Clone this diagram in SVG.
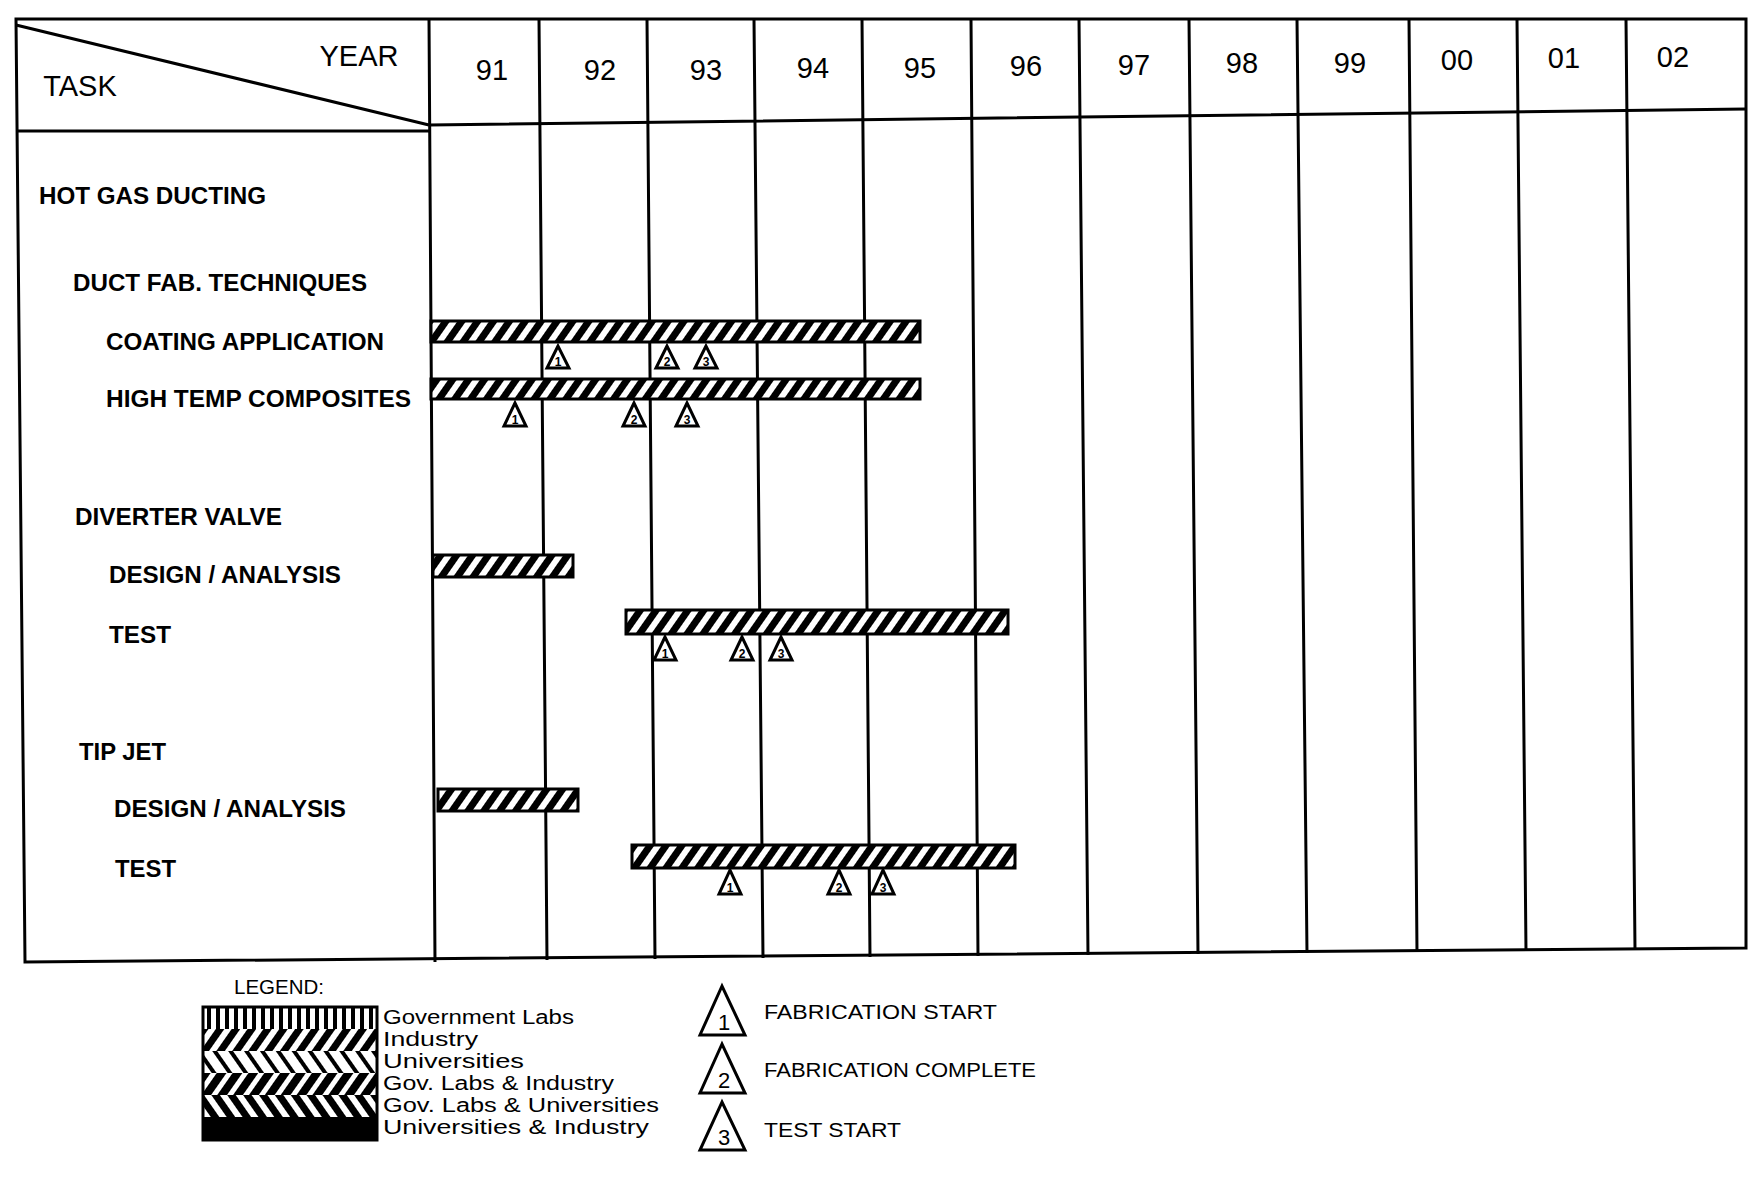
<svg xmlns="http://www.w3.org/2000/svg" width="1749" height="1191" viewBox="0 0 1749 1191">
<style>
.ln{stroke:#000;stroke-width:3;fill:none}
.yr{font-family:"Liberation Sans",sans-serif;font-size:29px;text-anchor:middle}
.tk{font-family:"Liberation Sans",sans-serif;font-size:24px;font-weight:bold}
.lg{font-family:"Liberation Sans",sans-serif;font-size:20px}
.bar{stroke:#000;stroke-width:3;fill:url(#ind)}
.tri{stroke:#000;stroke-width:3;fill:#fff}
.tn{font-family:"Liberation Sans",sans-serif;font-size:12px;font-weight:bold;text-anchor:middle}
.bn{font-family:"Liberation Sans",sans-serif;font-size:22px;text-anchor:middle}
</style>
<defs>
<pattern id="ind" width="13" height="13" patternUnits="userSpaceOnUse" patternTransform="rotate(35)">
<rect width="13" height="13" fill="#fff"/><rect width="7" height="13" fill="#000"/></pattern>
<pattern id="gov" width="9" height="10" patternUnits="userSpaceOnUse">
<rect width="9" height="10" fill="#fff"/><rect width="4" height="10" fill="#000"/></pattern>
<pattern id="uni" width="13" height="13" patternUnits="userSpaceOnUse" patternTransform="rotate(-35)">
<rect width="13" height="13" fill="#fff"/><rect width="4" height="13" fill="#000"/></pattern>
<pattern id="gi" width="13" height="13" patternUnits="userSpaceOnUse" patternTransform="rotate(35)">
<rect width="13" height="13" fill="#fff"/><rect width="8" height="13" fill="#000"/></pattern>
<pattern id="gu" width="13" height="13" patternUnits="userSpaceOnUse" patternTransform="rotate(-35)">
<rect width="13" height="13" fill="#fff"/><rect width="7" height="13" fill="#000"/></pattern>
</defs>
<rect width="1749" height="1191" fill="#fff"/>
<g id="grid" class="ln">
<path d="M16,19 L1746,19 L1746,948 L25,962 Z"/>
<path d="M16,131 L429,131 M429,125 L1746,109"/>
<path d="M16,25 L429,125"/>
<path d="M429,19 L435,962 M539,19 L547,960 M647,19 L655,959 M754,19 L763,958 M862,19 L870,957 M971,19 L978,956 M1079,19 L1088,955 M1189,19 L1198,954 M1297,19 L1307,953 M1409,19 L1417,952 M1517,19 L1526,951 M1626,19 L1635,949"/>
</g>
<g id="header">
<text x="80" y="96" class="yr" style="text-anchor:middle">TASK</text>
<text x="359" y="66" class="yr">YEAR</text>
<text x="492" y="80" class="yr">91</text><text x="600" y="80" class="yr">92</text><text x="706" y="80" class="yr">93</text><text x="813" y="78" class="yr">94</text><text x="920" y="78" class="yr">95</text><text x="1026" y="76" class="yr">96</text><text x="1134" y="75" class="yr">97</text><text x="1242" y="73" class="yr">98</text><text x="1350" y="73" class="yr">99</text><text x="1457" y="70" class="yr">00</text><text x="1564" y="68" class="yr">01</text><text x="1673" y="67" class="yr">02</text>
</g>
<g id="tasks">
<text x="39" y="204" class="tk" textLength="227" lengthAdjust="spacingAndGlyphs">HOT GAS DUCTING</text>
<text x="73" y="291" class="tk" textLength="294" lengthAdjust="spacingAndGlyphs">DUCT FAB. TECHNIQUES</text>
<text x="106" y="350" class="tk" textLength="278" lengthAdjust="spacingAndGlyphs">COATING APPLICATION</text>
<text x="106" y="407" class="tk" textLength="305" lengthAdjust="spacingAndGlyphs">HIGH TEMP COMPOSITES</text>
<text x="75" y="525" class="tk" textLength="207" lengthAdjust="spacingAndGlyphs">DIVERTER VALVE</text>
<text x="109" y="583" class="tk" textLength="232" lengthAdjust="spacingAndGlyphs">DESIGN / ANALYSIS</text>
<text x="109" y="643" class="tk" textLength="62" lengthAdjust="spacingAndGlyphs">TEST</text>
<text x="79" y="760" class="tk" textLength="87" lengthAdjust="spacingAndGlyphs">TIP JET</text>
<text x="114" y="817" class="tk" textLength="232" lengthAdjust="spacingAndGlyphs">DESIGN / ANALYSIS</text>
<text x="115" y="877" class="tk" textLength="61" lengthAdjust="spacingAndGlyphs">TEST</text>
</g>
<g id="bars">
<rect x="431" y="321" width="489" height="21" class="bar"/>
<rect x="431" y="379" width="489" height="20" class="bar"/>
<rect x="433" y="555" width="140" height="22" class="bar"/>
<rect x="626" y="610" width="382" height="24" class="bar"/>
<rect x="438" y="789" width="140" height="22" class="bar"/>
<rect x="632" y="845" width="383" height="23" class="bar"/>
</g>
<g id="milestones">
<g><path d="M558,346 L547,368 L569,368 Z" class="tri"/><text x="558" y="366" class="tn">1</text></g>
<g><path d="M667,346 L656,368 L678,368 Z" class="tri"/><text x="667" y="366" class="tn">2</text></g>
<g><path d="M706,346 L695,368 L717,368 Z" class="tri"/><text x="706" y="366" class="tn">3</text></g>
<g><path d="M515,403 L504,426 L526,426 Z" class="tri"/><text x="515" y="424" class="tn">1</text></g>
<g><path d="M634,403 L623,426 L645,426 Z" class="tri"/><text x="634" y="424" class="tn">2</text></g>
<g><path d="M687,403 L676,426 L698,426 Z" class="tri"/><text x="687" y="424" class="tn">3</text></g>
<g><path d="M665,637 L654,660 L676,660 Z" class="tri"/><text x="665" y="658" class="tn">1</text></g>
<g><path d="M742,637 L731,660 L753,660 Z" class="tri"/><text x="742" y="658" class="tn">2</text></g>
<g><path d="M781,637 L770,660 L792,660 Z" class="tri"/><text x="781" y="658" class="tn">3</text></g>
<g><path d="M730,870 L719,894 L741,894 Z" class="tri"/><text x="730" y="892" class="tn">1</text></g>
<g><path d="M839,870 L828,894 L850,894 Z" class="tri"/><text x="839" y="892" class="tn">2</text></g>
<g><path d="M883,870 L872,894 L894,894 Z" class="tri"/><text x="883" y="892" class="tn">3</text></g>
</g>
<g id="legend">
<text x="234" y="994" class="lg" textLength="90" lengthAdjust="spacingAndGlyphs">LEGEND:</text>
<rect x="203" y="1007" width="174" height="22" fill="url(#gov)"/>
<rect x="203" y="1029" width="174" height="22" fill="url(#ind)"/>
<rect x="203" y="1051" width="174" height="22" fill="url(#uni)"/>
<rect x="203" y="1073" width="174" height="22" fill="url(#gi)"/>
<rect x="203" y="1095" width="174" height="22" fill="url(#gu)"/>
<rect x="203" y="1117" width="174" height="23" fill="#000"/>
<rect x="203" y="1007" width="174" height="133" class="ln" stroke-width="2"/>
<text x="383" y="1024" class="lg" textLength="191" lengthAdjust="spacingAndGlyphs">Government Labs</text>
<text x="383" y="1046" class="lg" textLength="95" lengthAdjust="spacingAndGlyphs">Industry</text>
<text x="383" y="1068" class="lg" textLength="141" lengthAdjust="spacingAndGlyphs">Universities</text>
<text x="383" y="1090" class="lg" textLength="231" lengthAdjust="spacingAndGlyphs">Gov. Labs &amp; Industry</text>
<text x="383" y="1112" class="lg" textLength="276" lengthAdjust="spacingAndGlyphs">Gov. Labs &amp; Universities</text>
<text x="383" y="1134" class="lg" textLength="266" lengthAdjust="spacingAndGlyphs">Universities &amp; Industry</text>
<path d="M722,986 L700,1035 L745,1035 Z" class="tri"/><text x="724" y="1030" class="bn">1</text>
<path d="M722,1044 L700,1093 L745,1093 Z" class="tri"/><text x="724" y="1088" class="bn">2</text>
<path d="M722,1102 L700,1150 L745,1150 Z" class="tri"/><text x="724" y="1145" class="bn">3</text>
<text x="764" y="1019" class="lg" textLength="233" lengthAdjust="spacingAndGlyphs">FABRICATION START</text>
<text x="764" y="1077" class="lg" textLength="272" lengthAdjust="spacingAndGlyphs">FABRICATION COMPLETE</text>
<text x="764" y="1137" class="lg" textLength="137" lengthAdjust="spacingAndGlyphs">TEST START</text>
</g>
</svg>
